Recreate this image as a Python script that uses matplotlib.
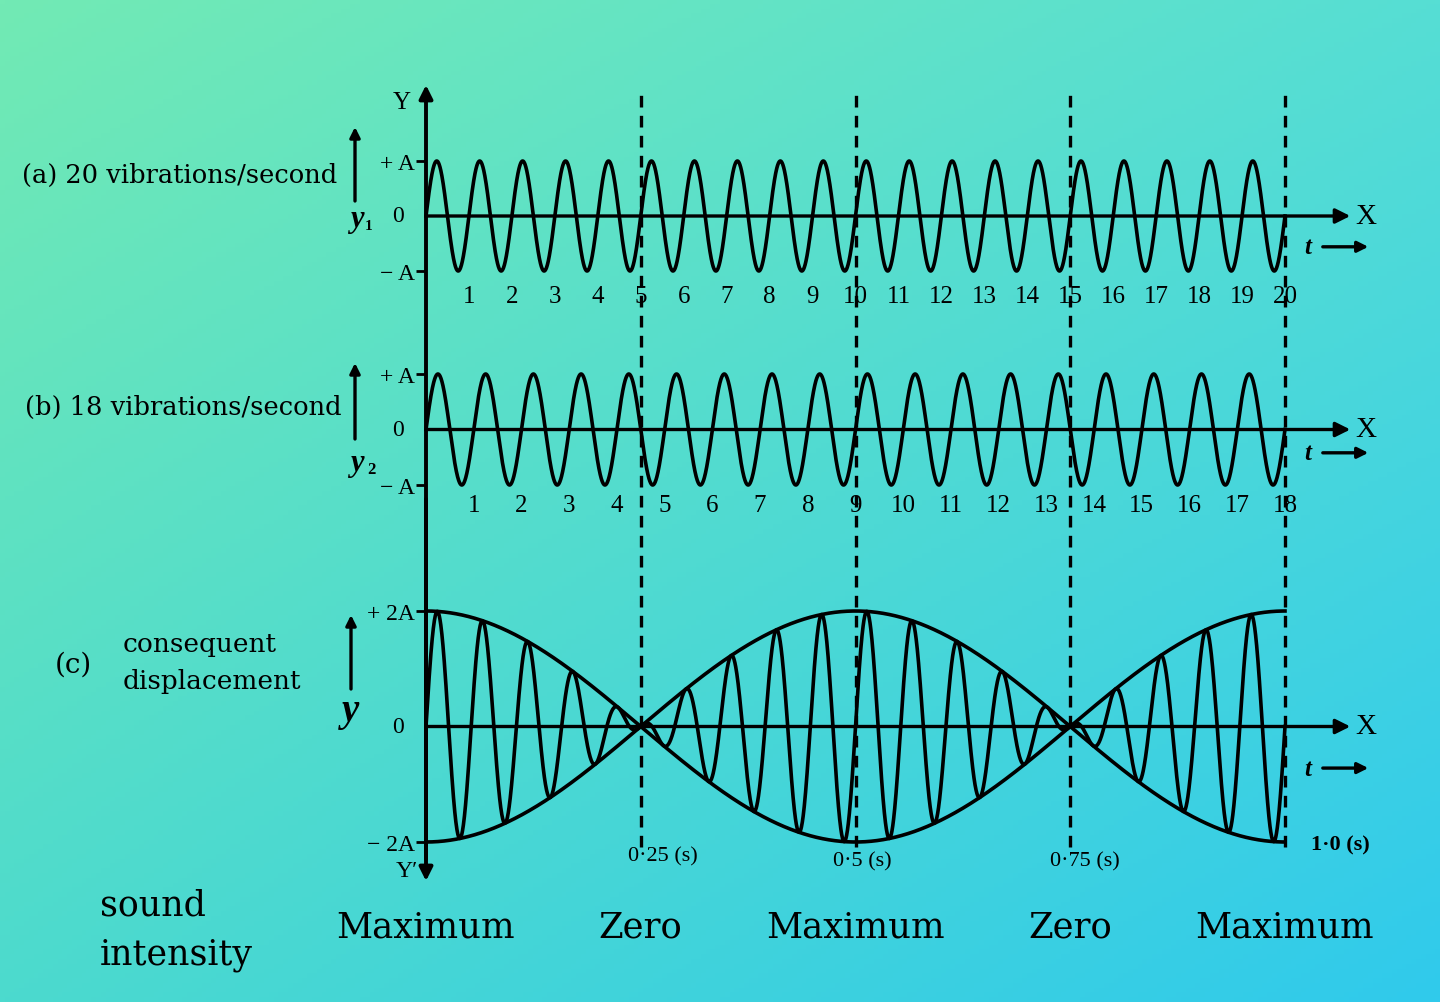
import numpy as np
import matplotlib.pyplot as plt

# canvas size in pixels (dpi 100)
W, H = 1440, 1003

# wave data
freq_a = 20          # vibrations per second, (a)
freq_b = 18          # vibrations per second, (b)
t_end = 1.0
beat_times = [0.25, 0.5, 0.75, 1.0]
beat_labels = ['0·25 (s)', '0·5 (s)', '0·75 (s)', '1·0 (s)']
intensity_times = [0.0, 0.25, 0.5, 0.75, 1.0]
intensity_labels = ['Maximum', 'Zero', 'Maximum', 'Zero', 'Maximum']
ticks_a = list(range(1, 21))
ticks_b = list(range(1, 19))

SCAN = 'Liberation Serif'
SLAB = 'DejaVu Serif'
LW = 2.6

fig = plt.figure(figsize=(W / 100, H / 100), dpi=100)

# background gradient (green top-left -> cyan bottom-right)
bg = fig.add_axes([0, 0, 1, 1])
tl = np.array([114, 234, 180]) / 255
tr = np.array([86, 222, 212]) / 255
bl = np.array([76, 218, 206]) / 255
br = np.array([48, 202, 236]) / 255
u = np.linspace(0, 1, 300)[None, :, None]
v = np.linspace(0, 1, 210)[:, None, None]
grad = tl * (1 - u) * (1 - v) + tr * u * (1 - v) + bl * (1 - u) * v + br * u * v
bg.imshow(grad, aspect='auto', extent=[0, 1, 0, 1], origin='upper')
bg.set_axis_off()


def px_axes(x0, y0, x1, y1):
    ax = fig.add_axes([x0 / W, 1 - y1 / H, (x1 - x0) / W, (y1 - y0) / H])
    ax.patch.set_alpha(0)
    for s in ax.spines.values():
        s.set_visible(False)
    ax.set_xticks([])
    return ax


def ftext(x, y, s, **kw):
    kw.setdefault('ha', 'left')
    kw.setdefault('va', 'center')
    kw.setdefault('color', 'black')
    fig.text(x / W, 1 - y / H, s, **kw)


def farrow(x, y0, y1, lw=2.0, ms=16):
    fig.add_artist(plt.matplotlib.patches.FancyArrowPatch(
        (x / W, 1 - y0 / H), (x / W, 1 - y1 / H), transform=fig.transFigure,
        arrowstyle='-|>', mutation_scale=ms, lw=lw, color='black',
        shrinkA=0, shrinkB=0))


T0, T1 = 426, 1285
t = np.linspace(0, t_end, 4000)

ax_a = px_axes(T0, 162, T1, 272)
ax_b = px_axes(T0, 375, T1, 486)
ax_c = px_axes(T0, 612, T1, 843)

y1 = np.sin(2 * np.pi * freq_a * t)
y2 = np.sin(2 * np.pi * freq_b * t)
yc = y1 + y2
env = 2 * np.abs(np.cos(np.pi * (freq_a - freq_b) * t))

ax_a.plot(t, y1, color='k', lw=LW, clip_on=False)
ax_b.plot(t, y2, color='k', lw=LW, clip_on=False)
ax_c.plot(t, yc, color='k', lw=LW, clip_on=False)
ax_c.plot(t, env, color='k', lw=LW, clip_on=False)
ax_c.plot(t, -env, color='k', lw=LW, clip_on=False)

for ax, lim in [(ax_a, 1), (ax_b, 1), (ax_c, 2)]:
    ax.set_xlim(0, t_end)
    ax.set_ylim(-lim, lim)
    ax.annotate('', xy=(1.076, 0), xytext=(0, 0), annotation_clip=False,
                arrowprops=dict(arrowstyle='-|>', lw=2.4, color='k',
                                mutation_scale=22, shrinkA=0, shrinkB=0))
    ax.text(1.082, 0, 'X', fontsize=21, family=SCAN, va='center', ha='left')
    ax.tick_params(axis='y', length=7, width=2, direction='out', pad=1,
                   labelsize=17)
    ax.text(-0.033, 0, '0', fontsize=17, family=SCAN, ha='center', va='center')

ax_a.set_yticks([-1, 1], ['− A', '+ A'], family=SCAN)
ax_b.set_yticks([-1, 1], ['− A', '+ A'], family=SCAN)
ax_c.set_yticks([-2, 2], ['− 2A', '+ 2A'], family=SCAN)

# "t ->" markers under each X axis
for ax, yy in [(ax_a, -0.56), (ax_b, -0.42), (ax_c, -0.72)]:
    ax.text(1.027, yy, 't', fontsize=18, family=SCAN, style='italic',
            weight='bold', ha='center', va='center')
    ax.annotate('', xy=(1.097, yy), xytext=(1.044, yy), annotation_clip=False,
                arrowprops=dict(arrowstyle='-|>', lw=2.4, color='k',
                                mutation_scale=16, shrinkA=0, shrinkB=0))

# vibration counts
for n in ticks_a:
    ax_a.text(n / freq_a, -1.45, str(n), fontsize=18, family=SCAN,
              ha='center', va='center')
for n in ticks_b:
    ax_b.text(n / freq_b, -1.36, str(n), fontsize=18, family=SCAN,
              ha='center', va='center')

# guide lines across the three panels
ov = px_axes(T0, 90, T1, 848)
ov.set_xlim(0, t_end)
ov.set_ylim(0, 1)
ov.set_yticks([])
for bt in beat_times:
    ov.axvline(bt, color='k', lw=2.4, ls=(0, (3.5, 2.5)), clip_on=False)

# main Y axis
farrow(T0, 860, 86, lw=2.8, ms=20)
farrow(T0, 500, 882, lw=2.8, ms=20)
ftext(402, 103, 'Y', fontsize=18, family=SCAN, ha='center')
ftext(407, 872, "Y′", fontsize=17, family=SCAN, ha='center')

# small y arrows and labels
farrow(355, 202, 128, lw=2.4, ms=15)
ftext(357, 220, 'y', fontsize=22, family=SCAN, style='italic', weight='bold', ha='center')
ftext(369, 226, '1', fontsize=11, family=SCAN, weight='bold', ha='center')
farrow(355, 440, 364, lw=2.4, ms=15)
ftext(357, 464, 'y', fontsize=22, family=SCAN, style='italic', weight='bold', ha='center')
ftext(371, 470, '2', fontsize=12, family=SCAN, weight='bold', ha='center')
farrow(351, 690, 616, lw=2.4, ms=15)
ftext(351, 711, 'y', fontsize=28, family=SCAN, style='italic', weight='bold', ha='center')

# time marks under panel (c)
ftext(663, 857, beat_labels[0], fontsize=16, family=SCAN, ha='center')
ftext(862, 862, beat_labels[1], fontsize=16, family=SCAN, ha='center')
ftext(1085, 862, beat_labels[2], fontsize=16, family=SCAN, ha='center')
ftext(1340, 845, beat_labels[3], fontsize=16, family=SCAN, ha='center', weight='bold')

# overlay captions
ftext(22, 175, '(a) 20 vibrations/second', fontsize=18.5, family=SLAB)
ftext(25, 407, '(b) 18 vibrations/second', fontsize=18.5, family=SLAB)
ftext(55, 665, '(c)', fontsize=20, family=SLAB)
ftext(123, 645, 'consequent', fontsize=19, family=SLAB)
ftext(123, 682, 'displacement', fontsize=19, family=SLAB)
ftext(100, 906, 'sound', fontsize=25, family=SLAB)
ftext(100, 955, 'intensity', fontsize=25, family=SLAB)

for it, lab in zip(intensity_times, intensity_labels):
    x = T0 + it * (T1 - T0)
    ftext(x, 928, lab, fontsize=25.5, family=SLAB, ha='center')

fig.savefig('out.png', dpi=100)
